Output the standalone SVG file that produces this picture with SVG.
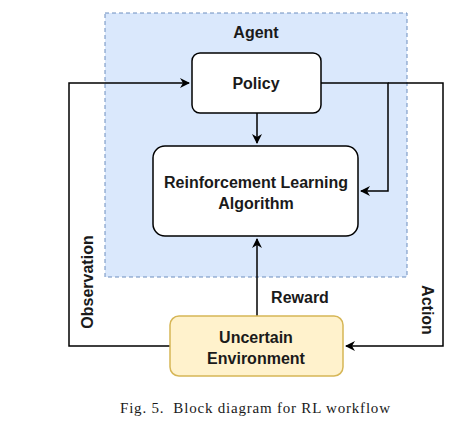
<svg xmlns="http://www.w3.org/2000/svg" width="474" height="423" viewBox="0 0 474 423">
<defs>
<style>
.box{fill:#ffffff;stroke:#000000;stroke-width:1.5}
.lbl{font-family:"Liberation Sans",Arial,sans-serif;font-size:16px;font-weight:bold;fill:#1a1a1a;text-anchor:middle;dominant-baseline:central}
.edge{fill:none;stroke:#000000;stroke-width:1.5}
.cap{font-family:"Liberation Serif","Times New Roman",serif;font-size:15px;fill:#1a1a1a;text-anchor:middle}
</style>
<marker id="arr" viewBox="0 0 10 10" refX="9" refY="5" markerWidth="10" markerHeight="10" markerUnits="userSpaceOnUse" orient="auto">
<path d="M0,0 L10,5 L0,10 L3,5 z" fill="#000000"/>
</marker>
</defs>
<rect width="474" height="423" fill="#ffffff"/>
<g id="agent">
<rect x="105" y="13" width="302" height="264" fill="#dae8fc" stroke="#6c8ebf" stroke-width="1" stroke-dasharray="4 3"/>
<text class="lbl" x="256" y="32">Agent</text>
</g>
<g id="connectors">
<path class="edge" d="M257,113 L257,143" marker-end="url(#arr)"/>
<path class="edge" d="M321,83 L388,83 L388,191 L361,191" marker-end="url(#arr)"/>
<path class="edge" d="M388,83 L443,83 L443,346 L346,346"  marker-end="url(#arr)"/>
<path class="edge" d="M170,346 L69,346 L69,83 L189,83" marker-end="url(#arr)"/>
<path class="edge" d="M257,316 L257,239" marker-end="url(#arr)"/>
<text class="lbl" x="300" y="297">Reward</text>
<text class="lbl" transform="translate(87,282) rotate(-90)">Observation</text>
<text class="lbl" transform="translate(427,310) rotate(90)">Action</text>
</g>
<g id="policy">
<rect class="box" x="192" y="53" width="129" height="60" rx="8"/>
<text class="lbl" x="256" y="83">Policy</text>
</g>
<g id="rl">
<rect class="box" x="153" y="146" width="205" height="90" rx="12"/>
<text class="lbl" x="256" y="182">Reinforcement Learning</text>
<text class="lbl" x="256" y="203">Algorithm</text>
</g>
<g id="env">
<rect x="170" y="316" width="173" height="60" rx="9" fill="#fff2cc" stroke="#d6b656" stroke-width="1.5"/>
<text class="lbl" x="256" y="337">Uncertain</text>
<text class="lbl" x="256" y="358">Environment</text>
</g>
<text class="cap" x="255" y="413" textLength="270" xml:space="preserve">Fig. 5.  Block diagram for RL workflow</text>
</svg>
